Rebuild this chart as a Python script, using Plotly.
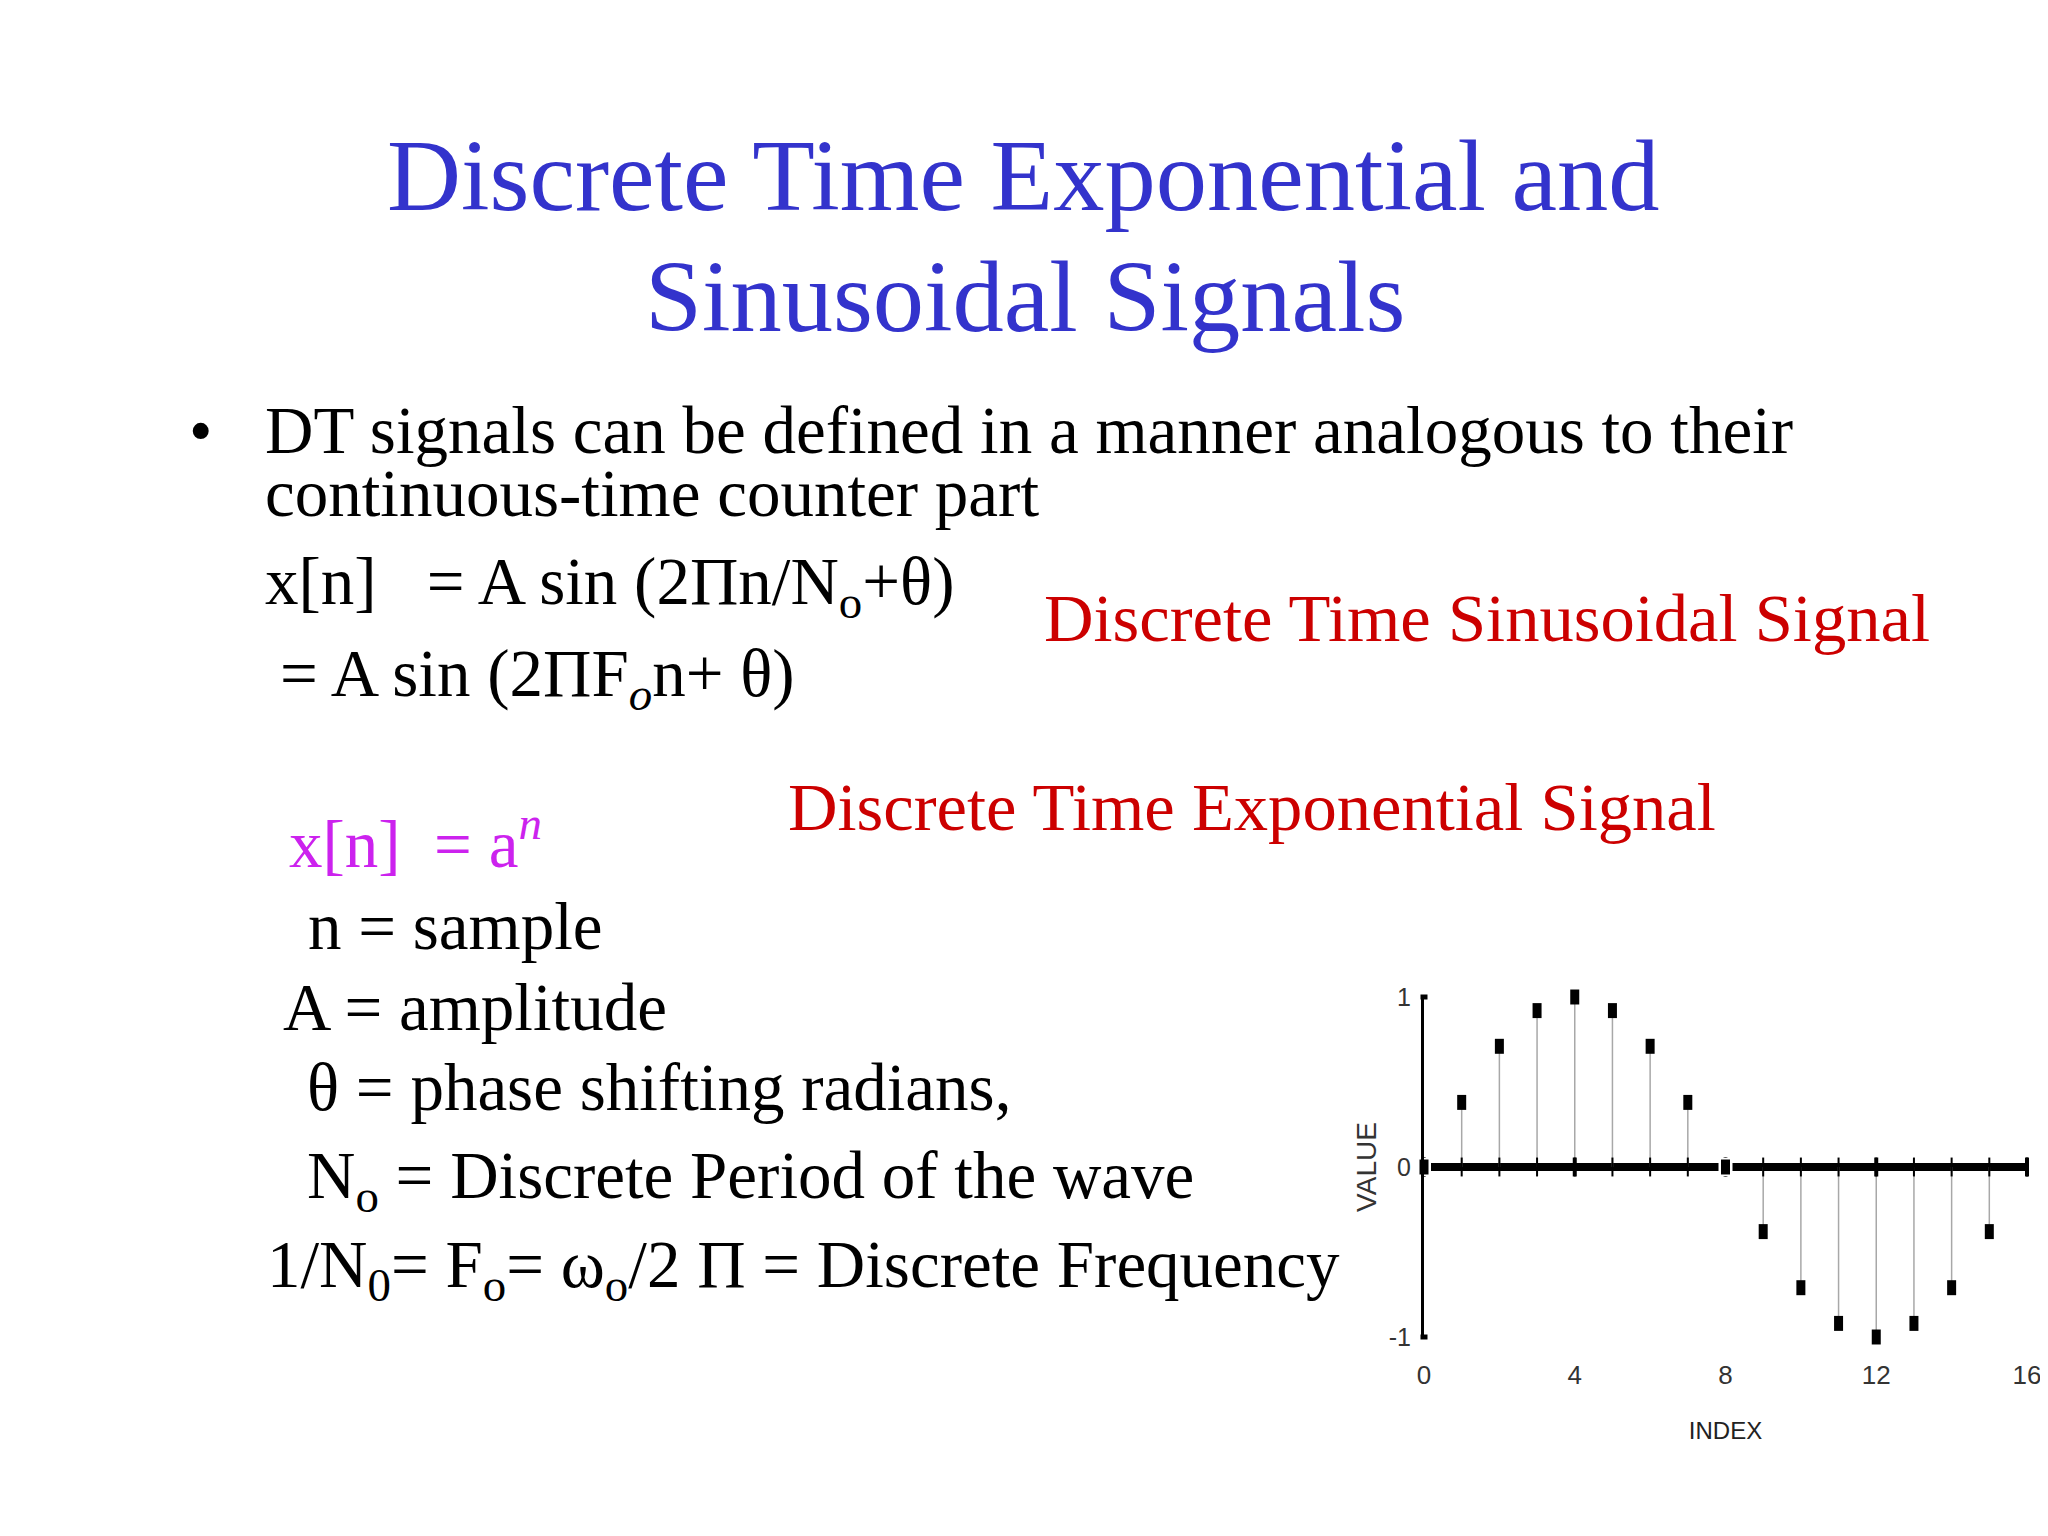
import plotly.graph_objects as go

M = 8                        # default body margin of the page
W, H = 2032, 1520            # figure size (fits inside the 2048x1536 window)

# ---------------- data ----------------
index = [0, 1, 2, 3, 4, 5, 6, 7, 8, 9, 10, 11, 12, 13, 14, 15]
value = [0.0, 0.38, 0.71, 0.92, 1.0, 0.92, 0.71, 0.38,
         0.0, -0.38, -0.71, -0.92, -1.0, -0.92, -0.71, -0.38]
axis_index = list(range(0, 17))
x_tickvals = [0, 4, 8, 12, 16]
x_ticktext = ["0", "4", "8", "12", "16"]
y_tickvals = [-1, 0, 1]
y_ticktext = ["-1", "0", "1"]

SERIF = "Liberation Serif, Times New Roman, serif"
NARROW = "Liberation Sans Narrow, Arial Narrow, Liberation Sans, sans-serif"
SANS = "Liberation Sans, Arial, sans-serif"


def fx(px):
    return (px - M) / W


def fy(py):
    return 1 - (py - M) / H


fig = go.Figure()

# stems
sx, sy = [], []
for n, v in zip(index, value):
    sx += [n, n, None]
    sy += [0, v, None]
fig.add_trace(go.Scatter(x=sx, y=sy, mode="lines",
                         line=dict(color="#A8A8A8", width=1.5),
                         hoverinfo="skip", showlegend=False, cliponaxis=False))

# small ticks across the zero line
fig.add_trace(go.Scatter(x=axis_index, y=[0] * len(axis_index), mode="markers",
                         marker=dict(symbol="line-ns", size=13.5,
                                     line=dict(color="black", width=2)),
                         hoverinfo="skip", showlegend=False, cliponaxis=False))
fig.add_trace(go.Scatter(x=x_tickvals, y=[0] * len(x_tickvals), mode="markers",
                         marker=dict(symbol="line-ns", size=13.5,
                                     line=dict(color="black", width=4)),
                         hoverinfo="skip", showlegend=False, cliponaxis=False))
# caps on the value axis
caps = [v for v in y_tickvals if v != 0]
fig.add_trace(go.Scatter(x=[0] * len(caps), y=caps, mode="markers",
                         marker=dict(symbol="line-ew", size=5,
                                     line=dict(color="black", width=5)),
                         hoverinfo="skip", showlegend=False, cliponaxis=False))

# white halo behind samples that sit on the zero line
zx = [n for n, v in zip(index, value) if v == 0]
fig.add_trace(go.Scatter(x=zx, y=[0] * len(zx), mode="markers",
                         marker=dict(symbol="line-ns", size=13,
                                     line=dict(color="white", width=14)),
                         hoverinfo="skip", showlegend=False, cliponaxis=False))

# sample markers (tall black rectangles)
fig.add_trace(go.Scatter(x=index, y=value, mode="markers",
                         marker=dict(symbol="line-ns", size=10.7,
                                     line=dict(color="black", width=9)),
                         showlegend=False, cliponaxis=False))

fig.update_xaxes(domain=[fx(1424), fx(2027)], range=[0, 16], automargin=False,
                 showgrid=False, zeroline=False, showline=False,
                 tickvals=x_tickvals, ticktext=x_ticktext, ticks="",
                 ticklabelstandoff=20, ticklabeloverflow="allow",
                 tickfont=dict(family=NARROW, size=26, color="#333333"),
                 title=dict(text="INDEX", standoff=33,
                            font=dict(family=NARROW, size=24, color="#222222")))
fig.update_yaxes(domain=[fy(1337), fy(997)], range=[-1, 1], automargin=False,
                 showgrid=False, zeroline=True, zerolinecolor="black",
                 zerolinewidth=8, showline=True, linecolor="black", linewidth=3,
                 tickvals=y_tickvals, ticktext=y_ticktext, ticks="",
                 ticklabelstandoff=5,
                 tickfont=dict(family=NARROW, size=25, color="#333333"),
                 title=dict(text="VALUE", standoff=4,
                            font=dict(family=SANS, size=28, color="#333333")))

# ---------------- slide text ----------------
BODY = 67
REDSIZE = 68.6
TITLESIZE = 102.5


def add_text(txt, x, baseline, size, color="black", anchor="left", sup=False):
    asc = 0.891 * size
    if sup:
        asc = 1.044 * size
    fig.add_annotation(text=txt, x=fx(x), y=fy(baseline - asc - 1),
                       xref="paper", yref="paper", xanchor=anchor, yanchor="top",
                       showarrow=False, align="left",
                       font=dict(family=SERIF, size=size, color=color))


TITLE_C = "#3333CC"
RED = "#CC0000"
MAG = "#CC22EE"

add_text("Discrete Time Exponential and", 1023, 209, TITLESIZE, TITLE_C, anchor="center")
add_text("Sinusoidal Signals", 1025, 330, TITLESIZE, TITLE_C, anchor="center")

add_text("\u2022", 187, 452, BODY)
add_text("DT signals can be defined in a manner analogous to their", 263, 452, BODY)
add_text("continuous-time counter part", 263, 515, BODY)
add_text("x[n]\u00a0\u00a0\u00a0= A sin (2\u03a0n/N<sub>o</sub>+\u03b8)", 263, 603, BODY)
add_text("= A sin (2\u03a0F<sub><i>o</i></sub>n+ \u03b8)", 278, 695, BODY)

add_text("Discrete Time Sinusoidal Signal", 1042, 640, REDSIZE, RED)
add_text("Discrete Time Exponential Signal", 786, 829, REDSIZE, RED)

add_text("x[n]\u00a0\u00a0= a<sup><i>n</i></sup>", 287, 866, BODY, MAG, sup=True)
add_text("n = sample", 306, 948, BODY)
add_text("A = amplitude", 281, 1029, BODY)
add_text("\u03b8 = phase shifting radians,", 305, 1109, BODY)
add_text("N<sub>o</sub> = Discrete Period of the wave", 305, 1197, BODY)
add_text("1/N<sub>0</sub>= F<sub>o</sub>= \u03c9<sub>o</sub>/2 \u03a0 = Discrete Frequency",
         265, 1286, BODY)

fig.update_layout(width=W, height=H, margin=dict(l=0, r=0, t=0, b=0, autoexpand=False),
                  paper_bgcolor="white", plot_bgcolor="white",
                  showlegend=False)

fig.write_html("out.html", config={"displayModeBar": False})
